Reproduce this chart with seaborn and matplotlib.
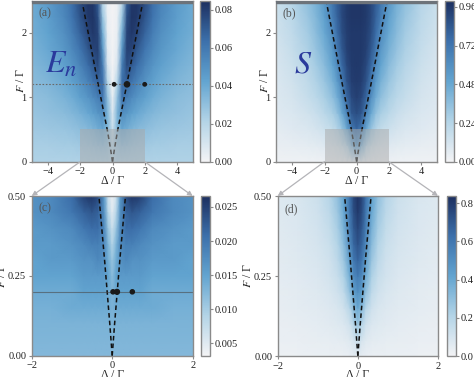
import numpy as np
import matplotlib
matplotlib.use("Agg")
import matplotlib.pyplot as plt
import seaborn as sns
from matplotlib.patches import Rectangle, ConnectionPatch

sns.set_style("ticks")
plt.rcParams['font.family'] = ['Liberation Serif', 'DejaVu Serif']
plt.rcParams['mathtext.fontset'] = 'stix'

# ---------------- data ----------------
# panels (a),(b): Delta/Gamma columns, F/Gamma rows (bottom -> top)
delta_ab = [-5, -4, -3, -2.5, -2, -1.5, -1.2, -0.9, -0.6, -0.3, 0,
            0.3, 0.6, 0.9, 1.2, 1.5, 2, 2.5, 3, 4, 5]
F_ab = [0, 0.25, 0.5, 0.75, 1.0, 1.25, 1.5, 1.75, 2.0, 2.25, 2.5]

En_big = [
    [0.022, 0.022, 0.022, 0.022, 0.022, 0.022, 0.022, 0.022, 0.022, 0.022, 0.021, 0.022, 0.022, 0.022, 0.022, 0.022, 0.022, 0.022, 0.022, 0.022, 0.022],
    [0.024, 0.024, 0.025, 0.025, 0.026, 0.027, 0.028, 0.029, 0.030, 0.028, 0.020, 0.028, 0.030, 0.029, 0.028, 0.027, 0.026, 0.025, 0.025, 0.024, 0.024],
    [0.026, 0.027, 0.028, 0.029, 0.031, 0.033, 0.035, 0.038, 0.041, 0.034, 0.014, 0.034, 0.041, 0.038, 0.035, 0.033, 0.031, 0.029, 0.028, 0.027, 0.026],
    [0.028, 0.030, 0.032, 0.034, 0.037, 0.041, 0.044, 0.048, 0.052, 0.036, 0.008, 0.036, 0.052, 0.048, 0.044, 0.041, 0.037, 0.034, 0.032, 0.030, 0.028],
    [0.030, 0.032, 0.036, 0.039, 0.044, 0.049, 0.053, 0.058, 0.062, 0.030, 0.003, 0.030, 0.062, 0.058, 0.053, 0.049, 0.044, 0.039, 0.036, 0.032, 0.030],
    [0.032, 0.035, 0.040, 0.044, 0.050, 0.057, 0.062, 0.068, 0.064, 0.020, 0.001, 0.020, 0.064, 0.068, 0.062, 0.057, 0.050, 0.044, 0.040, 0.035, 0.032],
    [0.034, 0.038, 0.044, 0.049, 0.056, 0.065, 0.071, 0.076, 0.058, 0.010, 0.000, 0.010, 0.058, 0.076, 0.071, 0.065, 0.056, 0.049, 0.044, 0.038, 0.034],
    [0.036, 0.041, 0.048, 0.054, 0.062, 0.072, 0.078, 0.079, 0.048, 0.006, 0.000, 0.006, 0.048, 0.079, 0.078, 0.072, 0.062, 0.054, 0.048, 0.041, 0.036],
    [0.038, 0.043, 0.051, 0.058, 0.068, 0.078, 0.082, 0.078, 0.038, 0.004, 0.000, 0.004, 0.038, 0.078, 0.082, 0.078, 0.068, 0.058, 0.051, 0.043, 0.038],
    [0.039, 0.045, 0.054, 0.062, 0.073, 0.082, 0.083, 0.075, 0.028, 0.003, 0.000, 0.003, 0.028, 0.075, 0.083, 0.082, 0.073, 0.062, 0.054, 0.045, 0.039],
    [0.040, 0.046, 0.056, 0.064, 0.076, 0.083, 0.082, 0.070, 0.018, 0.002, 0.000, 0.002, 0.018, 0.070, 0.082, 0.083, 0.076, 0.064, 0.056, 0.046, 0.040],
]

S_big = [
    [0.02, 0.02, 0.02, 0.02, 0.025, 0.025, 0.03, 0.03, 0.035, 0.04, 0.05, 0.04, 0.035, 0.03, 0.03, 0.025, 0.025, 0.02, 0.02, 0.02, 0.02],
    [0.04, 0.05, 0.06, 0.07, 0.08, 0.10, 0.12, 0.16, 0.24, 0.42, 0.55, 0.42, 0.24, 0.16, 0.12, 0.10, 0.08, 0.07, 0.06, 0.05, 0.04],
    [0.06, 0.08, 0.10, 0.12, 0.15, 0.19, 0.24, 0.33, 0.48, 0.70, 0.78, 0.70, 0.48, 0.33, 0.24, 0.19, 0.15, 0.12, 0.10, 0.08, 0.06],
    [0.08, 0.10, 0.14, 0.17, 0.22, 0.28, 0.35, 0.48, 0.66, 0.84, 0.88, 0.84, 0.66, 0.48, 0.35, 0.28, 0.22, 0.17, 0.14, 0.10, 0.08],
    [0.09, 0.12, 0.18, 0.22, 0.28, 0.36, 0.45, 0.60, 0.78, 0.90, 0.93, 0.90, 0.78, 0.60, 0.45, 0.36, 0.28, 0.22, 0.18, 0.12, 0.09],
    [0.10, 0.14, 0.21, 0.26, 0.33, 0.43, 0.54, 0.70, 0.86, 0.94, 0.95, 0.94, 0.86, 0.70, 0.54, 0.43, 0.33, 0.26, 0.21, 0.14, 0.10],
    [0.11, 0.16, 0.24, 0.30, 0.38, 0.50, 0.62, 0.78, 0.90, 0.95, 0.96, 0.95, 0.90, 0.78, 0.62, 0.50, 0.38, 0.30, 0.24, 0.16, 0.11],
    [0.12, 0.18, 0.27, 0.34, 0.43, 0.56, 0.70, 0.84, 0.93, 0.96, 0.96, 0.96, 0.93, 0.84, 0.70, 0.56, 0.43, 0.34, 0.27, 0.18, 0.12],
    [0.14, 0.20, 0.30, 0.38, 0.48, 0.62, 0.76, 0.88, 0.94, 0.96, 0.96, 0.96, 0.94, 0.88, 0.76, 0.62, 0.48, 0.38, 0.30, 0.20, 0.14],
    [0.15, 0.22, 0.33, 0.41, 0.52, 0.68, 0.80, 0.90, 0.95, 0.97, 0.97, 0.97, 0.95, 0.90, 0.80, 0.68, 0.52, 0.41, 0.33, 0.22, 0.15],
    [0.16, 0.24, 0.36, 0.44, 0.56, 0.72, 0.82, 0.90, 0.95, 0.97, 0.97, 0.97, 0.95, 0.90, 0.82, 0.72, 0.56, 0.44, 0.36, 0.24, 0.16],
]

# panels (c),(d): zoomed region
delta_cd = [-2, -1.5, -1, -0.7, -0.5, -0.35, -0.2, -0.1, 0,
            0.1, 0.2, 0.35, 0.5, 0.7, 1, 1.5, 2]
F_cd = [0, 0.05, 0.1, 0.15, 0.2, 0.25, 0.3, 0.35, 0.4, 0.45, 0.5]

En_zoom = [
    [0.0125, 0.0125, 0.0125, 0.0125, 0.0125, 0.0125, 0.0125, 0.0125, 0.0125, 0.0125, 0.0125, 0.0125, 0.0125, 0.0125, 0.0125, 0.0125, 0.0125],
    [0.0128, 0.0128, 0.0128, 0.0128, 0.0128, 0.0128, 0.0128, 0.0128, 0.0128, 0.0128, 0.0128, 0.0128, 0.0128, 0.0128, 0.0128, 0.0128, 0.0128],
    [0.0130, 0.0130, 0.0130, 0.0130, 0.0130, 0.0130, 0.0130, 0.0130, 0.0130, 0.0130, 0.0130, 0.0130, 0.0130, 0.0130, 0.0130, 0.0130, 0.0130],
    [0.0135, 0.0135, 0.0140, 0.0140, 0.0140, 0.0140, 0.0140, 0.0140, 0.0130, 0.0140, 0.0140, 0.0140, 0.0140, 0.0140, 0.0140, 0.0135, 0.0135],
    [0.0140, 0.0140, 0.0140, 0.0150, 0.0150, 0.0150, 0.0150, 0.0140, 0.0130, 0.0140, 0.0150, 0.0150, 0.0150, 0.0150, 0.0140, 0.0140, 0.0140],
    [0.0150, 0.0150, 0.0150, 0.0160, 0.0160, 0.0160, 0.0160, 0.0150, 0.0120, 0.0150, 0.0160, 0.0160, 0.0160, 0.0160, 0.0150, 0.0150, 0.0150],
    [0.0150, 0.0160, 0.0160, 0.0170, 0.0170, 0.0180, 0.0170, 0.0140, 0.0110, 0.0140, 0.0170, 0.0180, 0.0170, 0.0170, 0.0160, 0.0160, 0.0150],
    [0.0160, 0.0160, 0.0170, 0.0180, 0.0190, 0.0190, 0.0180, 0.0130, 0.0090, 0.0130, 0.0180, 0.0190, 0.0190, 0.0180, 0.0170, 0.0160, 0.0160],
    [0.0160, 0.0170, 0.0180, 0.0200, 0.0210, 0.0210, 0.0180, 0.0110, 0.0070, 0.0110, 0.0180, 0.0210, 0.0210, 0.0200, 0.0180, 0.0170, 0.0160],
    [0.0170, 0.0180, 0.0200, 0.0220, 0.0230, 0.0220, 0.0170, 0.0090, 0.0050, 0.0090, 0.0170, 0.0220, 0.0230, 0.0220, 0.0200, 0.0180, 0.0170],
    [0.0170, 0.0180, 0.0210, 0.0250, 0.0260, 0.0240, 0.0160, 0.0070, 0.0040, 0.0070, 0.0160, 0.0240, 0.0260, 0.0250, 0.0210, 0.0180, 0.0170],
]

S_zoom = [
    [0.025, 0.025, 0.03, 0.03, 0.03, 0.03, 0.035, 0.04, 0.06, 0.04, 0.035, 0.03, 0.03, 0.03, 0.03, 0.025, 0.025],
    [0.03, 0.035, 0.04, 0.045, 0.05, 0.055, 0.07, 0.10, 0.15, 0.10, 0.07, 0.055, 0.05, 0.045, 0.04, 0.035, 0.03],
    [0.035, 0.04, 0.05, 0.06, 0.07, 0.08, 0.12, 0.20, 0.28, 0.20, 0.12, 0.08, 0.07, 0.06, 0.05, 0.04, 0.035],
    [0.04, 0.05, 0.06, 0.075, 0.09, 0.12, 0.20, 0.33, 0.40, 0.33, 0.20, 0.12, 0.09, 0.075, 0.06, 0.05, 0.04],
    [0.045, 0.055, 0.07, 0.09, 0.12, 0.17, 0.30, 0.44, 0.50, 0.44, 0.30, 0.17, 0.12, 0.09, 0.07, 0.055, 0.045],
    [0.05, 0.06, 0.08, 0.11, 0.15, 0.22, 0.38, 0.52, 0.58, 0.52, 0.38, 0.22, 0.15, 0.11, 0.08, 0.06, 0.05],
    [0.055, 0.07, 0.09, 0.12, 0.18, 0.27, 0.45, 0.60, 0.66, 0.60, 0.45, 0.27, 0.18, 0.12, 0.09, 0.07, 0.055],
    [0.06, 0.075, 0.10, 0.14, 0.21, 0.32, 0.52, 0.66, 0.72, 0.66, 0.52, 0.32, 0.21, 0.14, 0.10, 0.075, 0.06],
    [0.065, 0.08, 0.11, 0.16, 0.24, 0.36, 0.57, 0.70, 0.76, 0.70, 0.57, 0.36, 0.24, 0.16, 0.11, 0.08, 0.065],
    [0.07, 0.085, 0.12, 0.18, 0.27, 0.40, 0.60, 0.74, 0.80, 0.74, 0.60, 0.40, 0.27, 0.18, 0.12, 0.085, 0.07],
    [0.07, 0.09, 0.13, 0.20, 0.30, 0.42, 0.62, 0.76, 0.82, 0.76, 0.62, 0.42, 0.30, 0.20, 0.13, 0.09, 0.07],
]

# dashed boundary lines (Delta vs F)
line_F = [0, 0.1, 0.2, 0.3, 0.4, 0.5, 0.8, 1.2, 1.6, 2.0, 2.5]
line_D = [0, 0.06, 0.125, 0.19, 0.26, 0.33, 0.57, 0.89, 1.2, 1.51, 1.9]

# marked points
pts_a_D = [0.1, 0.9, 2.0]
pts_a_F = 1.2
pts_c_D = [0.02, 0.12, 0.5]
pts_c_F = 0.2

cb_ticks_a = [0.00, 0.02, 0.04, 0.06, 0.08]
cb_ticks_b = [0.00, 0.24, 0.48, 0.72, 0.96]
cb_ticks_c = [0.005, 0.010, 0.015, 0.020, 0.025]
cb_ticks_d = [0.0, 0.2, 0.4, 0.6, 0.8]

# ---------------- figure ----------------
W, H = 474, 377
fig = plt.figure(figsize=(W / 100, H / 100), dpi=100)

def box(x0, x1, ytop, ybot):
    return [x0 / W, 1 - ybot / H, (x1 - x0) / W, (ybot - ytop) / H]

cmap = sns.blend_palette(['#f3f3f5', '#b3d4e7', '#62a4d0', '#3c70ab', '#1c2f5f'], as_cmap=True)

spine_c = '#8a8a8a'
txt_c = '#222222'
TS = 7.5

def style_axes(ax):
    for s in ax.spines.values():
        s.set_color(spine_c)
        s.set_linewidth(1.0)
    ax.tick_params(colors=spine_c, labelcolor=txt_c, labelsize=TS, length=2.5, width=0.8, pad=1.5)

def style_cbar(cb, ticks, fmt):
    cb.set_ticks(ticks)
    cb.set_ticklabels([fmt.format(t) for t in ticks])
    cb.outline.set_edgecolor(spine_c)
    cb.outline.set_linewidth(1.0)
    cb.ax.tick_params(colors=spine_c, labelcolor=txt_c, labelsize=TS, length=2.5, width=0.8, pad=1)

panels = [
    dict(pos=box(32, 193, 0.5, 161.7), cpos=box(200, 209.5, 0.5, 161.7), X=delta_ab, Y=F_ab, Z=En_big,
         vmin=0.0, vmax=0.085, ticks=cb_ticks_a, fmt='{:.2f}', lab='(a)', xlim=(-5, 5), ylim=(0, 2.5),
         xt=[-4, -2, 0, 2, 4], yt=[0, 1, 2], ytl=['0', '1', '2'], big=True),
    dict(pos=box(276.3, 437, 0.5, 161.7), cpos=box(444.7, 453.7, 0.5, 161.7), X=delta_ab, Y=F_ab, Z=S_big,
         vmin=0.0, vmax=1.0, ticks=cb_ticks_b, fmt='{:.2f}', lab='(b)', xlim=(-5, 5), ylim=(0, 2.5),
         xt=[-4, -2, 0, 2, 4], yt=[0, 1, 2], ytl=['0', '1', '2'], big=True),
    dict(pos=box(31.7, 192.7, 196, 355.7), cpos=box(201, 210, 196, 355.7), X=delta_cd, Y=F_cd, Z=En_zoom,
         vmin=0.0032, vmax=0.0266, ticks=cb_ticks_c, fmt='{:.3f}', lab='(c)', xlim=(-2, 2), ylim=(0, 0.5),
         xt=[-2, 0, 2], yt=[0, 0.25, 0.5], ytl=['0.00', '0.25', '0.50'], big=False),
    dict(pos=box(277.7, 438, 196, 356), cpos=box(447, 456, 196, 356), X=delta_cd, Y=F_cd, Z=S_zoom,
         vmin=0.0, vmax=0.837, ticks=cb_ticks_d, fmt='{:.1f}', lab='(d)', xlim=(-2, 2), ylim=(0, 0.5),
         xt=[-2, 0, 2], yt=[0, 0.25, 0.5], ytl=['0.00', '0.25', '0.50'], big=False),
]

axes = []
for p in panels:
    ax = fig.add_axes(p['pos'])
    Xg, Yg = np.meshgrid(p['X'], p['Y'])
    m = ax.pcolormesh(Xg, Yg, np.array(p['Z']), shading='gouraud', cmap=cmap,
                      vmin=p['vmin'], vmax=p['vmax'], rasterized=True)
    ax.set_xlim(*p['xlim'])
    ax.set_ylim(*p['ylim'])
    ax.set_xticks(p['xt'])
    ax.set_xticklabels([str(v).replace('-', '\u2212') for v in p['xt']])
    ax.set_yticks(p['yt'])
    ax.set_yticklabels(p['ytl'])
    style_axes(ax)
    ax.set_xlabel('\u0394 / \u0393', fontsize=8.5, color=txt_c, labelpad=-1)
    ax.set_ylabel('$F$ / \u0393', fontsize=8.5, color=txt_c, labelpad=(-4 if p['big'] else 0))
    # dashed V lines
    ax.plot(line_D, line_F, color='#111111', lw=1.1, ls=(0, (3, 2)))
    ax.plot([-d for d in line_D], line_F, color='#111111', lw=1.1, ls=(0, (3, 2)))
    ax.text(0.04, 0.92, p['lab'], transform=ax.transAxes, fontsize=8.5, color='#555555',
            ha='left', va='center')
    cax = fig.add_axes(p['cpos'])
    cb = fig.colorbar(m, cax=cax)
    style_cbar(cb, p['ticks'], p['fmt'])
    if p['big']:
        ax.add_patch(Rectangle((-2, 0), 4, 0.5, facecolor='#a9a9a9', alpha=0.5, edgecolor='none', zorder=3))
        ax.axhspan(2.46, 2.5, color='#6d737a', zorder=4)
    axes.append(ax)

ax_a, ax_b, ax_c, ax_d = axes

# horizontal dotted lines and points
ax_a.axhline(pts_a_F, color='#6a6a6a', lw=0.8, ls=(0, (1.5, 1.5)))
ax_a.scatter(pts_a_D, [pts_a_F] * 3, s=[6, 14, 6], color='#1a1a1a', zorder=5)
ax_c.axhline(pts_c_F, color='#4a4a4a', lw=0.8, ls='-', alpha=0.6)
ax_c.scatter(pts_c_D, [pts_c_F] * 3, s=[9, 12, 9], color='#1a1a1a', zorder=5)

# big labels
ax_a.text(-4.2, 1.5, '$E_n$', fontsize=23, color='#2a3a9c', ha='left', va='center')
ax_b.text(-3.9, 1.5, '$S$', fontsize=23, color='#2a3a9c', ha='left', va='center')

# connector lines from zoom box to lower panels
for top, bot in [(ax_a, ax_c), (ax_b, ax_d)]:
    for x in (-2, 2):
        con = ConnectionPatch(xyA=(x, 0), coordsA='data', axesA=top,
                              xyB=(x, 0.5), coordsB='data', axesB=bot,
                              arrowstyle='-|>', mutation_scale=7, color='#b4b4b8', lw=0.9)
        fig.add_artist(con)

fig.savefig('out.png', dpi=100)
